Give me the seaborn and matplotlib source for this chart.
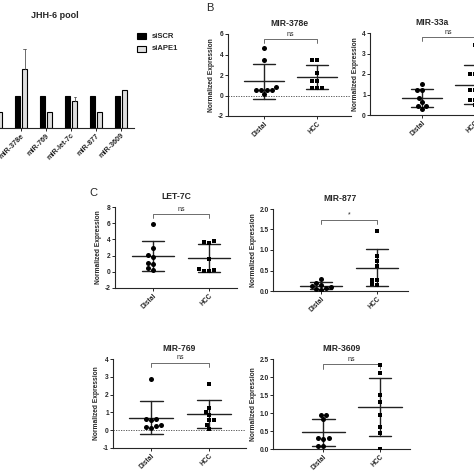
import matplotlib
matplotlib.use('Agg')
import matplotlib.pyplot as plt
import seaborn as sns
import numpy as np
import pandas as pd

# ---------------- data ----------------
mirs_a = ['miR-33a', 'miR-378e', 'miR-769', 'miR-let-7c', 'miR-877', 'miR-3609']
siscr = [1.0, 1.0, 1.0, 1.0, 1.0, 1.0]
siape1 = [0.5, 1.84, 0.5, 0.85, 0.5, 1.2]
siape1_err = [0.0, 0.63, 0.0, 0.12, 0.0, 0.0]

groups = ['Distal', 'HCC']
panels = {
    'MIR-378e': ([4.6, 3.5, 0.8, 0.5, 0.5, 0.5, 0.5, 0.1],
                 [3.5, 3.5, 2.2, 1.45, 1.45, 0.7, 0.7, 0.7]),
    'MIR-33a': ([1.5, 1.2, 1.2, 0.85, 0.65, 0.45, 0.45, 0.28],
                [3.4, 2.0, 2.0, 1.2, 1.2, 0.75, 0.75, 0.5]),
    'LET-7C': ([5.85, 2.9, 2.1, 1.8, 1.1, 1.0, 0.45, 0.2],
               [3.75, 3.7, 3.6, 1.55, 0.3, 0.2, 0.1, 0.15]),
    'MIR-877': ([0.3, 0.2, 0.15, 0.12, 0.1, 0.08, 0.05, 0.02],
                [1.47, 0.85, 0.73, 0.61, 0.28, 0.27, 0.16, 0.14]),
    'MIR-769': ([2.9, 0.65, 0.65, 0.6, 0.3, 0.25, 0.2, 0.1],
                [2.6, 1.25, 1.05, 0.85, 0.55, 0.55, 0.3, 0.05]),
    'MIR-3609': ([0.95, 0.95, 0.83, 0.3, 0.3, 0.27, 0.08, 0.08],
                 [2.32, 2.1, 1.5, 1.31, 0.95, 0.62, 0.44, 0.0]),
}
sig = {'MIR-378e': ('ns', 5.5), 'MIR-33a': ('ns', 3.8), 'LET-7C': ('ns', 7.1),
       'MIR-877': ('*', 1.73), 'MIR-769': ('ns', 3.8), 'MIR-3609': ('ns', 2.35)}
# (left, top, right, bottom px), ylim, yticks, xlim, zero line
layout = {
    'MIR-378e': ((228, 34, 351, 116), (-2, 6), [-2, 0, 2, 4, 6], (-0.68, 1.64), True),
    'MIR-33a': ((370, 33, 493, 115), (0, 4), [0, 1, 2, 3, 4], (-0.98, 1.34), False),
    'LET-7C': ((115, 207, 237, 288), (-2, 8), [-2, 0, 2, 4, 6, 8], (-0.68, 1.5), False),
    'MIR-877': ((273, 209, 408, 291), (0, 2), [0, 0.5, 1.0, 1.5, 2.0], (-0.86, 1.55), False),
    'MIR-769': ((113, 359, 246, 448), (-1, 4), [-1, 0, 1, 2, 3, 4], (-0.66, 1.64), True),
    'MIR-3609': ((273, 359, 410, 449), (0, 2.5), [0, 0.5, 1.0, 1.5, 2.0, 2.5], (-0.89, 1.53), False),
}
int_ticks = ('MIR-378e', 'MIR-33a', 'LET-7C', 'MIR-769')

sns.set_style('ticks')
plt.rcParams['font.family'] = ['Liberation Sans', 'DejaVu Sans']
plt.rcParams['font.weight'] = 'bold'

W = 474
fig = plt.figure(figsize=(4.74, 4.74), dpi=100)


def pax(l, t, r, b):
    return fig.add_axes([l / W, 1 - b / W, (r - l) / W, (b - t) / W])


def style(ax):
    sns.despine(ax=ax)
    for s in ['left', 'bottom']:
        ax.spines[s].set_linewidth(0.8)
    ax.tick_params(length=2, width=0.7, labelsize=4.8, pad=1)


# ---------------- panel A ----------------
ax = pax(-16.5, 32, 133.5, 128)
df_a = pd.DataFrame({'mir': mirs_a * 2, 'val': siscr + siape1,
                     'grp': ['siSCR'] * 6 + ['siAPE1'] * 6})
sns.barplot(data=df_a, x='mir', y='val', hue='grp', order=mirs_a,
            palette={'siSCR': 'black', 'siAPE1': '#e0e0e0'}, edgecolor='black',
            linewidth=0.8, width=0.6, gap=0.35, ax=ax, legend=False)
for bar, e in zip(ax.containers[1], siape1_err):
    if e > 0:
        x = bar.get_x() + bar.get_width() / 2
        h = bar.get_height()
        ax.plot([x, x], [h, h + e], color='#555555', lw=0.6)
        ax.plot([x - 0.05, x + 0.05], [h + e] * 2, color='#555555', lw=0.6)
ax.set_ylim(0, 3)
ax.set_xlim(-0.5, 5.5)
ax.set_xlabel('')
ax.set_ylabel('')
style(ax)
ax.spines['left'].set_visible(False)
ax.set_yticks([])
ax.set_xticks(range(6))
ax.set_xticklabels(mirs_a, rotation=45, ha='right', fontsize=5.2, rotation_mode='anchor')
fig.text(55 / W, 1 - 15 / W, 'JHH-6 pool', ha='center', va='center', fontsize=6.5, weight='bold')
for lab, y, c in [('siSCR', 36, 'black'), ('siAPE1', 49, '#e0e0e0')]:
    fig.patches.append(plt.Rectangle((137 / W, 1 - (y + 3) / W), 9 / W, 6 / W,
                                     transform=fig.transFigure, facecolor=c,
                                     edgecolor='black', lw=0.8))
    fig.text(152 / W, 1 - y / W, lab, ha='left', va='center', fontsize=5.5, weight='bold')

fig.text(210 / W, 1 - 8 / W, 'B', ha='center', va='center', fontsize=8, weight='normal')
fig.text(93 / W, 1 - 193 / W, 'C', ha='center', va='center', fontsize=8, weight='normal')

# ---------------- scatter panels ----------------
for name, (d, h) in panels.items():
    box, ylim, yt, xlim, zero = layout[name]
    ax = pax(*box)
    df = pd.DataFrame({'grp': ['Distal'] * len(d) + ['HCC'] * len(h), 'val': d + h})
    sns.swarmplot(data=df[df.grp == 'Distal'], x='grp', y='val', order=groups,
                  color='black', marker='o', size=3.6, ax=ax)
    sns.swarmplot(data=df[df.grp == 'HCC'], x='grp', y='val', order=groups,
                  color='black', marker='s', size=3.4, ax=ax)
    for i, vals in enumerate([d, h]):
        m, s = np.mean(vals), np.std(vals, ddof=1)
        ax.plot([i - 0.38, i + 0.38], [m, m], color='#222222', lw=1.0)
        ax.plot([i - 0.2, i + 0.2], [m + s] * 2, color='#222222', lw=1.0)
        ax.plot([i - 0.2, i + 0.2], [m - s] * 2, color='#222222', lw=1.0)
        ax.plot([i, i], [m - s, m + s], color='#222222', lw=1.0)
    if zero:
        ax.axhline(0, color='#444444', lw=0.6, ls=(0, (1.5, 1.5)))
    txt, yb = sig[name]
    drop = (ylim[1] - ylim[0]) * 0.05
    ax.plot([0, 0, 1, 1], [yb - drop, yb, yb, yb - drop], color='#555555', lw=0.6)
    ax.text(0.5, yb + drop * 0.3, txt, ha='center', va='bottom', fontsize=5, weight='normal')
    ax.set_ylim(*ylim)
    ax.set_yticks(yt)
    if name in int_ticks:
        ax.set_yticklabels([f'{v:g}' for v in yt])
    else:
        ax.set_yticklabels([f'{v:.1f}' for v in yt])
    ax.set_xlim(*xlim)
    ax.set_xlabel('')
    ax.set_ylabel('Normalized Expression', fontsize=4.8, weight='bold', labelpad=2)
    style(ax)
    ax.set_xticks([0, 1])
    ax.set_xticklabels(groups, rotation=45, ha='right', rotation_mode='anchor', fontsize=4.8)
    ax.set_title(name, fontsize=6.2, weight='bold', pad=6)

fig.savefig('out.png', dpi=100)
